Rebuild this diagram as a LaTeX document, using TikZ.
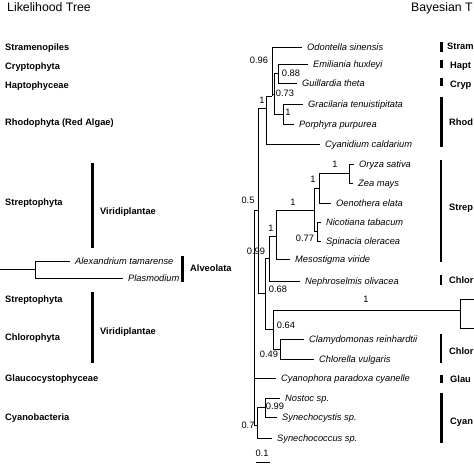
\documentclass[tikz,border=0pt]{standalone}
\usepackage{fontspec}
\setmainfont{Liberation Sans}
\begin{document}
\begin{tikzpicture}[x=1pt,y=-1pt,
    taxon/.style={anchor=west,inner xsep=5pt,inner ysep=0pt,text height=6.7pt,text depth=0pt,font=\fontsize{9.3}{11}\selectfont\itshape},
    group/.style={anchor=west,inner sep=0pt,text height=6.7pt,text depth=2pt,font=\fontsize{9.3}{11}\selectfont\bfseries},
    support/.style={inner sep=0pt,font=\fontsize{9.3}{11}\selectfont},
    title/.style={inner sep=0pt,font=\fontsize{12.3}{14}\selectfont},
    branch/.style={line width=0.9pt},
    cladebar/.style={line width=3pt},
    thinbar/.style={line width=1.2pt}]
    \useasboundingbox (0,0) rectangle (474,474);
    \clip (0,0) rectangle (474,474);

    % titles
    \node[title,anchor=base west](mlTitle) at (7,11) {Likelihood Tree};
    \node[title,anchor=base west](bayesTitle) at (411,11) {Bayesian T};

    % left: group names
    \begin{scope}
    \node[group](lStram) at (5,48) {Stramenopiles};
    \node[group](lCrypt) at (5,67) {Cryptophyta};
    \node[group](lHapto) at (5,86) {Haptophyceae};
    \node[group](lRhodo) at (5,123) {Rhodophyta (Red Algae)};
    \node[group](lStrepA) at (5,203) {Streptophyta};
    \node[group](lViriA) at (100,212) {Viridiplantae};
    \node[group](lStrepB) at (5,300) {Streptophyta};
    \node[group](lChloro) at (5,338) {Chlorophyta};
    \node[group](lViriB) at (100,332) {Viridiplantae};
    \node[group](lGlauco) at (5,379) {Glaucocystophyceae};
    \node[group](lCyano) at (5,418) {Cyanobacteria};
    \node[group](lAlveo) at (190,269) {Alveolata};

    \draw [cladebar] (92,163) -- (92,248);
    \draw [cladebar] (92,292) -- (92,363);
    \draw [cladebar] (182,256) -- (182,282);

    \coordinate (lRoot) at (-2,269);
    \coordinate (lAlv) at (35,269);
    \node[taxon](alexandrium) at (70,261) {Alexandrium tamarense};
    \node[taxon](plasmodium) at (123,278) {Plasmodium};
    \draw [branch] (lRoot) -- (lAlv);
    \draw [branch] (lAlv) |- (alexandrium.west);
    \draw [branch] (lAlv) |- (plasmodium.west);
    \end{scope}

    % right: Bayesian tree
    \begin{scope}
    \coordinate (nRoot) at (254,210);
    \coordinate (nTop) at (258,210);
    \coordinate (nCya) at (266,108);
    \coordinate (n96) at (272,96);
    \coordinate (n73) at (274,94);
    \coordinate (n88) at (278,73);
    \coordinate (nGra) at (283,114);
    \coordinate (nY) at (265,293);
    \coordinate (n99) at (269,258);
    \coordinate (nStr) at (276,236);
    \coordinate (nAng) at (314,210);
    \coordinate (nMon) at (319,188);
    \coordinate (nGrass) at (349,173);
    \coordinate (n77) at (317,231);
    \coordinate (nX) at (273,329);
    \coordinate (nAlv) at (460,310);
    \coordinate (alvA) at (480,299);
    \coordinate (alvB) at (480,328);
    \coordinate (nChl) at (280,349);
    \coordinate (nCyb) at (257,425);
    \coordinate (nNos) at (265,407);

    \node[taxon](odontella) at (302,47) {Odontella sinensis};
    \node[taxon](emiliania) at (308,64) {Emiliania huxleyi};
    \node[taxon](guillardia) at (297,83) {Guillardia theta};
    \node[taxon](gracilaria) at (303,104) {Gracilaria tenuistipitata};
    \node[taxon](porphyra) at (294,124) {Porphyra purpurea};
    \node[taxon](cyanidium) at (320,144) {Cyanidium caldarium};
    \node[taxon](oryza) at (354,164) {Oryza sativa};
    \node[taxon](zea) at (353,183) {Zea mays};
    \node[taxon](oenothera) at (331,203) {Oenothera elata};
    \node[taxon](nicotiana) at (321,222) {Nicotiana tabacum};
    \node[taxon](spinacia) at (321,241) {Spinacia oleracea};
    \node[taxon](mesostigma) at (290,259) {Mesostigma viride};
    \node[taxon](nephroselmis) at (300,281) {Nephroselmis olivacea};
    \node[taxon](clamydomonas) at (304,339) {Clamydomonas reinhardtii};
    \node[taxon](chlorella) at (314,359) {Chlorella vulgaris};
    \node[taxon](cyanophora) at (276,378) {Cyanophora paradoxa cyanelle};
    \node[taxon](nostoc) at (280,398) {Nostoc sp.};
    \node[taxon](synechocystis) at (277,417) {Synechocystis sp.};
    \node[taxon](synechococcus) at (272,438) {Synechococcus sp.};

    \draw [branch] (nRoot) |- (nTop);
    \draw [branch] (nRoot) |- (cyanophora.west);
    \draw [branch] (nRoot) |- (nCyb);
    \draw [branch] (nTop) |- (nCya);
    \draw [branch] (nTop) |- (nY);
    \draw [branch] (nCya) |- (n96);
    \draw [branch] (nCya) |- (cyanidium.west);
    \draw [branch] (n96) |- (odontella.west);
    \draw [branch] (n96) |- (n73);
    \draw [branch] (n73) |- (n88);
    \draw [branch] (n73) |- (nGra);
    \draw [branch] (n88) |- (emiliania.west);
    \draw [branch] (n88) |- (guillardia.west);
    \draw [branch] (nGra) |- (gracilaria.west);
    \draw [branch] (nGra) |- (porphyra.west);
    \draw [branch] (nY) |- (n99);
    \draw [branch] (nY) |- (nX);
    \draw [branch] (n99) |- (nStr);
    \draw [branch] (n99) |- (nephroselmis.west);
    \draw [branch] (nStr) |- (nAng);
    \draw [branch] (nStr) |- (mesostigma.west);
    \draw [branch] (nAng) |- (nMon);
    \draw [branch] (nAng) |- (n77);
    \draw [branch] (nMon) |- (nGrass);
    \draw [branch] (nMon) |- (oenothera.west);
    \draw [branch] (nGrass) |- (oryza.west);
    \draw [branch] (nGrass) |- (zea.west);
    \draw [branch] (n77) |- (nicotiana.west);
    \draw [branch] (n77) |- (spinacia.west);
    \draw [branch] (nX) |- (nAlv);
    \draw [branch] (nX) |- (nChl);
    \draw [branch] (nAlv) |- (alvA);
    \draw [branch] (nAlv) |- (alvB);
    \draw [branch] (nChl) |- (clamydomonas.west);
    \draw [branch] (nChl) |- (chlorella.west);
    \draw [branch] (nCyb) |- (nNos);
    \draw [branch] (nCyb) |- (synechococcus.west);
    \draw [branch] (nNos) |- (nostoc.west);
    \draw [branch] (nNos) |- (synechocystis.west);

    % posterior probabilities
    \node[support](p96) at (259,60) {0.96};
    \node[support](p88) at (291,73) {0.88};
    \node[support](p73) at (285,93) {0.73};
    \node[support](pGra) at (288,112) {1};
    \node[support](pCya) at (262,100) {1};
    \node[support](pTop) at (248,200) {0.5};
    \node[support](pGrass) at (335,164) {1};
    \node[support](pMon) at (313,179) {1};
    \node[support](pAng) at (293,202) {1};
    \node[support](pStr) at (271,228) {1};
    \node[support](p77) at (305,238) {0.77};
    \node[support](p99) at (256,251) {0.99};
    \node[support](p68) at (278,289) {0.68};
    \node[support](pAlv) at (366,299) {1};
    \node[support](p64) at (286,325) {0.64};
    \node[support](p49) at (269,354) {0.49};
    \node[support](pNos) at (275,406) {0.99};
    \node[support](pCyb) at (248,425) {0.7};

    % scale
    \node[support](scaleText) at (262,453) {0.1};
    \coordinate (scaleL) at (256,462);
    \coordinate (scaleR) at (270,462);
    \draw [branch] (scaleL) -- (scaleR);

    % right: group bars and names (cut off by the figure edge)
    \draw [cladebar] (441,42) -- (441,52);
    \draw [cladebar] (441,60) -- (441,68);
    \draw [cladebar] (441,78) -- (441,86);
    \draw [cladebar] (441,97) -- (441,147);
    \draw [thinbar] (441,160) -- (441,262);
    \draw [thinbar] (441,275) -- (441,285);
    \draw [thinbar] (441,334) -- (441,363);
    \draw [cladebar] (441,375) -- (441,383);
    \draw [cladebar] (441,393) -- (441,443);
    \node[group](rStram) at (447,47) {Stram};
    \node[group](rHapto) at (450,66) {Hapt};
    \node[group](rCrypt) at (450,85) {Cryp};
    \node[group](rRhodo) at (449,123) {Rhod};
    \node[group](rStrep) at (449,208) {Strep};
    \node[group](rChloA) at (449,281) {Chlor};
    \node[group](rChloB) at (449,352) {Chlor};
    \node[group](rGlauco) at (450,380) {Glau};
    \node[group](rCyano) at (450,422) {Cyan};
    \end{scope}
\end{tikzpicture}
\end{document}
